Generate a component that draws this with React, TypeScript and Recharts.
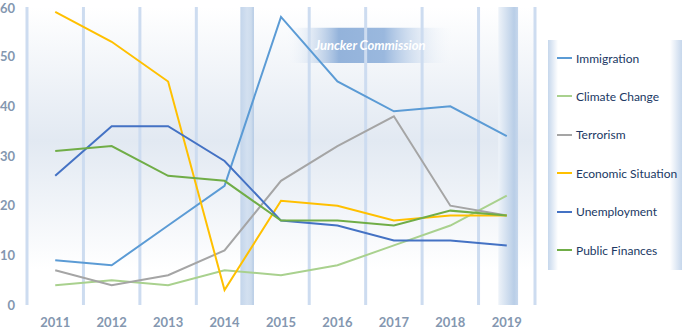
import React from 'react';
import { LineChart, Line, XAxis, YAxis, ReferenceArea, ReferenceLine } from 'recharts';

const years = [2011, 2012, 2013, 2014, 2015, 2016, 2017, 2018, 2019];
const immigration = [9, 8, 16, 24, 58, 45, 39, 40, 34];
const climateChange = [4, 5, 4, 7, 6, 8, 12, 16, 22];
const terrorism = [7, 4, 6, 11, 25, 32, 38, 20, 18];
const economicSituation = [59, 53, 45, 3, 21, 20, 17, 18, 18];
const unemployment = [26, 36, 36, 29, 17, 16, 13, 13, 12];
const publicFinances = [31, 32, 26, 25, 17, 17, 16, 19, 18];
const yTicks = [0, 10, 20, 30, 40, 50, 60];
const boundaries = [2010.5, 2011.5, 2012.5, 2013.5, 2015.5, 2016.5, 2017.5, 2018.5, 2019.5];
const annotationText = 'Juncker Commission';

const series = [
  { key: 'immigration', name: 'Immigration', color: '#5B9BD5', values: immigration },
  { key: 'climate', name: 'Climate Change', color: '#A9D18E', values: climateChange },
  { key: 'terrorism', name: 'Terrorism', color: '#A5A5A5', values: terrorism },
  { key: 'economic', name: 'Economic Situation', color: '#FFC000', values: economicSituation },
  { key: 'unemployment', name: 'Unemployment', color: '#4472C4', values: unemployment },
  { key: 'public', name: 'Public Finances', color: '#70AD47', values: publicFinances },
];

const data = years.map((year, i) => {
  const row: Record<string, number> = { year };
  series.forEach((s) => {
    row[s.key] = s.values[i];
  });
  return row;
});

const tickStyle = { fill: '#8497B0', fontSize: 13, fontWeight: 700, fontFamily: 'Lato' };

export default function App() {
  return (
    <div style={{ position: 'absolute', left: 0, top: 0, width: 685, height: 333, background: '#fff' }}>
      <LineChart
        width={685}
        height={333}
        data={data}
        margin={{ top: 7, right: 150, bottom: 0, left: 0 }}
      >
        <defs>
          <linearGradient id="bgGrad" x1="0" y1="0" x2="0" y2="1">
            <stop offset="0%" stopColor="#ffffff" />
            <stop offset="45%" stopColor="#e2e9f2" />
            <stop offset="88%" stopColor="#ffffff" />
            <stop offset="100%" stopColor="#ffffff" />
          </linearGradient>
          <linearGradient id="bandGrad" x1="0" y1="0" x2="1" y2="0">
            <stop offset="0%" stopColor="#c3d5eb" />
            <stop offset="50%" stopColor="#d3e0f0" />
            <stop offset="80%" stopColor="#cddced" />
            <stop offset="100%" stopColor="#b3c9e4" />
          </linearGradient>
          <linearGradient id="endGrad" x1="0" y1="0" x2="1" y2="0">
            <stop offset="0%" stopColor="#eef3f9" />
            <stop offset="80%" stopColor="#b9cee7" />
            <stop offset="100%" stopColor="#c6d7ec" />
          </linearGradient>
          <linearGradient id="annGrad" x1="0" y1="0" x2="1" y2="0">
            <stop offset="0%" stopColor="#ffffff" stopOpacity={0} />
            <stop offset="32%" stopColor="#8eafd9" stopOpacity={0.95} />
            <stop offset="58%" stopColor="#9ab8de" stopOpacity={1} />
            <stop offset="100%" stopColor="#ffffff" stopOpacity={0} />
          </linearGradient>
        </defs>
        <ReferenceArea x1={2010.5} x2={2019.5} y1={0} y2={60} fill="url(#bgGrad)" fillOpacity={1} stroke="none" />
        {boundaries.map((b) => (
          <ReferenceLine key={b} x={b} stroke="#cddcf0" strokeWidth={3} />
        ))}
        <ReferenceArea x1={2014.28} x2={2014.52} y1={0} y2={60} fill="url(#bandGrad)" fillOpacity={1} stroke="none" />
        <ReferenceArea x1={2018.85} x2={2019.2} y1={0} y2={60} fill="url(#endGrad)" fillOpacity={1} stroke="none" />
        <ReferenceArea
          x1={2015.04}
          x2={2018.12}
          y1={48.7}
          y2={55.8}
          fill="url(#annGrad)"
          fillOpacity={1}
          stroke="none"
          label={{
            value: annotationText,
            position: 'center',
            fill: '#ffffff',
            fontStyle: 'italic',
            fontWeight: 700,
            fontSize: 13,
            fontFamily: 'Lato',
          }}
        />
        <XAxis
          dataKey="year"
          type="number"
          domain={[2010.5, 2019.5]}
          ticks={years}
          axisLine={false}
          tickLine={false}
          tickSize={0}
          tickMargin={13}
          height={28}
          tick={tickStyle}
          interval={0}
        />
        <YAxis
          domain={[0, 60]}
          ticks={yTicks}
          axisLine={false}
          tickLine={false}
          tickSize={0}
          tickMargin={12}
          width={27}
          tick={tickStyle}
        />
        {series.map((s) => (
          <Line
            key={s.key}
            type="linear"
            dataKey={s.key}
            name={s.name}
            stroke={s.color}
            strokeWidth={2}
            dot={false}
            activeDot={false}
            isAnimationActive={false}
          />
        ))}
      </LineChart>
      <div
        style={{
          position: 'absolute',
          left: 548,
          top: 40,
          width: 134,
          height: 230,
          background:
            'linear-gradient(to right, #c6d7ec 0px, #ffffff 10px, #ffffff 122px, #c6d7ec 134px)',
          fontFamily: 'Lato',
        }}
      >
        {series.map((s, i) => (
          <div
            key={s.key}
            style={{
              position: 'absolute',
              left: 9,
              top: 18 + i * 38.4 - 8,
              height: 16,
              display: 'flex',
              alignItems: 'center',
              whiteSpace: 'nowrap',
            }}
          >
            <span style={{ display: 'inline-block', width: 15, height: 2, background: s.color, marginRight: 4 }} />
            <span style={{ fontSize: 12, color: '#203864' }}>{s.name}</span>
          </div>
        ))}
      </div>
    </div>
  );
}
